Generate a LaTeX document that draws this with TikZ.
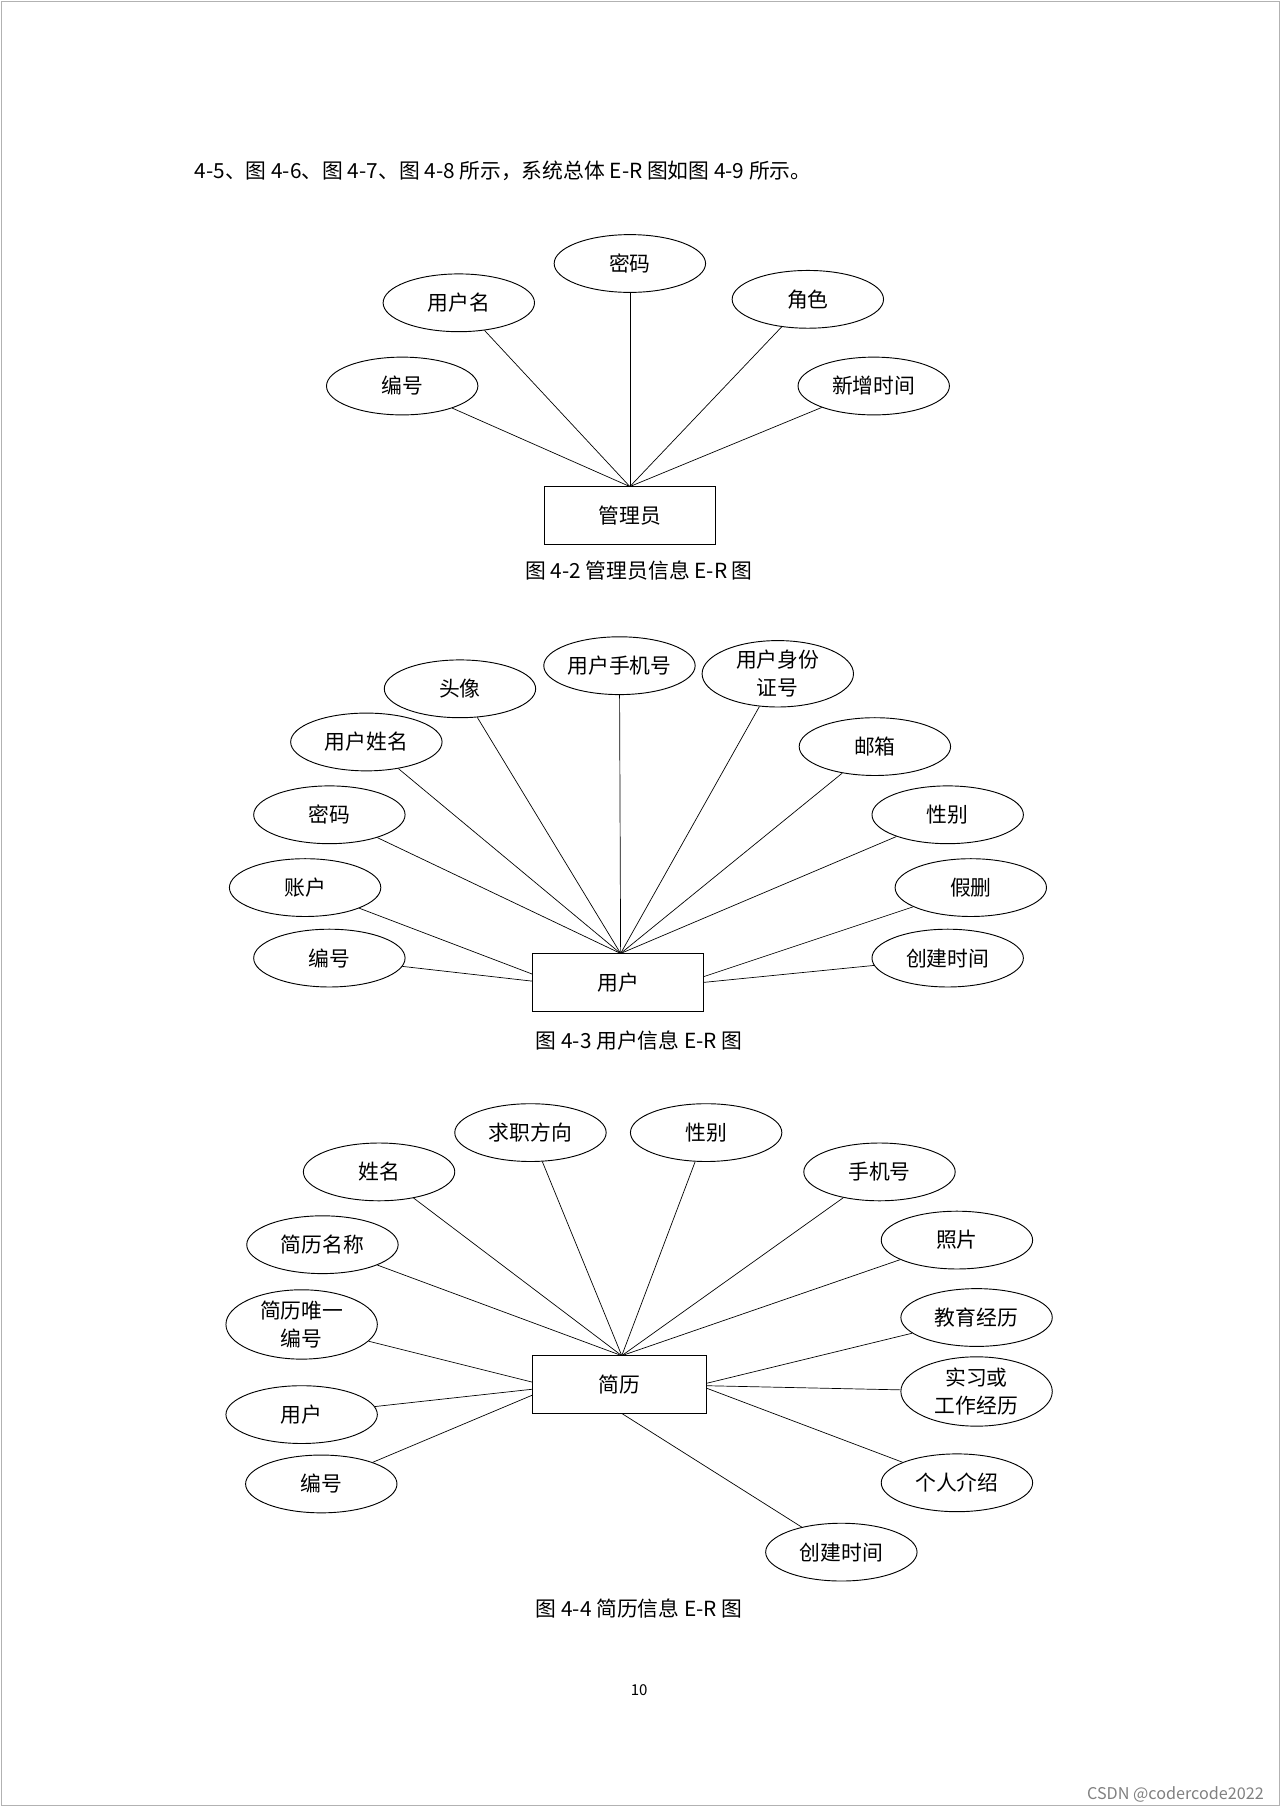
\documentclass[tikz,border=0pt]{standalone}
\usepackage{fontspec}
\setmainfont{Noto Sans CJK SC}
\usetikzlibrary{shapes.geometric}
\tikzset{
 attr/.style={draw,ellipse,minimum width=131pt,minimum height=50pt,inner sep=0pt,font=\fontsize{18}{22}\selectfont,align=center,line width=0.8pt},
 ent/.style={draw,rectangle,minimum width=148pt,minimum height=50pt,inner sep=0pt,font=\fontsize{18}{22}\selectfont,line width=0.8pt},
 captxt/.style={font=\fontsize{18}{22}\selectfont},
 ln/.style={line width=0.6pt}
}
\begin{document}
\begin{tikzpicture}[x=1pt,y=-1pt]
\useasboundingbox (0,0) rectangle (1108,1567);
\draw[gray!60] (1,1) rectangle (1107,1562);
\node[captxt,anchor=west] (hdr) at (165,148) {4-5、图 4-6、图 4-7、图 4-8 所示，系统总体 E-R 图如图 4-9 所示。};
% ---- diagram 1
\node[ent] (A) at (545,446) {管理员};
\coordinate (At) at (545,421);
\node[attr] (a1) at (397,262) {用户名};
\node[attr] (a2) at (545,228) {密码};
\node[attr] (a3) at (699,259) {角色};
\node[attr] (a4) at (348,334) {编号};
\node[attr] (a5) at (756,334) {新增时间};
\foreach \n in {a1,a2,a3,a4,a5} \draw[ln] (\n) -- (At);
\node[captxt] (c1) at (553,494) {图 4-2 管理员信息 E-R 图};
% ---- diagram 2
\node[ent] (U) at (535,850) {用户};
\coordinate (Ut) at (537,825);
\coordinate (Ul1) at (461,843);
\coordinate (Ul2) at (461,849);
\coordinate (Ur1) at (609,845);
\coordinate (Ur2) at (609,850);
\node[attr] (u1) at (398,596) {头像};
\node[attr] (u2) at (536,576) {用户手机号};
\node[attr,font=\fontsize{18}{24}\selectfont] (u3) at (673,583) {用户身份\\证号};
\node[attr] (u4) at (317,642) {用户姓名};
\node[attr] (u5) at (757,646) {邮箱};
\node[attr] (u6) at (285,705) {密码};
\node[attr] (u7) at (820,705) {性别};
\node[attr] (u8) at (264,768) {账户};
\node[attr] (u9) at (840,768) {假删};
\node[attr] (u10) at (285,829) {编号};
\node[attr] (u11) at (820,829) {创建时间};
\foreach \n in {u1,u2,u3,u4,u5,u6,u7} \draw[ln] (\n) -- (Ut);
\draw[ln] (u8) -- (Ul1);
\draw[ln] (u10) -- (Ul2);
\draw[ln] (u9) -- (Ur1);
\draw[ln] (u11) -- (Ur2);
\node[captxt] (c2) at (553,900) {图 4-3 用户信息 E-R 图};
% ---- diagram 3
\node[ent,minimum width=150pt] (R) at (536,1198) {简历};
\coordinate (Rt) at (538,1173);
\coordinate (Rb) at (538,1223);
\coordinate (Rl1) at (461,1196);
\coordinate (Rl2) at (461,1202);
\coordinate (Rl3) at (461,1207);
\coordinate (Rr1) at (611,1197);
\coordinate (Rr2) at (611,1199);
\coordinate (Rr3) at (611,1201);
\node[attr] (r1) at (459,980) {求职方向};
\node[attr] (r2) at (611,980) {性别};
\node[attr] (r3) at (328,1014) {姓名};
\node[attr] (r4) at (761,1014) {手机号};
\node[attr] (r5) at (279,1077) {简历名称};
\node[attr] (r6) at (828,1073) {照片};
\node[attr,minimum height=60pt,font=\fontsize{18}{24}\selectfont] (r7) at (261,1146) {简历唯一\\编号};
\node[attr] (r8) at (845,1140) {教育经历};
\node[attr,minimum height=60pt,font=\fontsize{18}{24}\selectfont] (r9) at (845,1204) {实习或\\工作经历};
\node[attr] (r10) at (261,1224) {用户};
\node[attr] (r11) at (828,1283) {个人介绍};
\node[attr] (r12) at (278,1284) {编号};
\node[attr] (r13) at (728,1343) {创建时间};
\foreach \n in {r1,r2,r3,r4,r5,r6} \draw[ln] (\n) -- (Rt);
\draw[ln] (r7) -- (Rl1);
\draw[ln] (r10) -- (Rl2);
\draw[ln] (r12) -- (Rl3);
\draw[ln] (r8) -- (Rr1);
\draw[ln] (r9) -- (Rr2);
\draw[ln] (r11) -- (Rr3);
\draw[ln] (r13) -- (Rb);
\node[captxt] (c3) at (553,1392) {图 4-4 简历信息 E-R 图};
\node[font=\fontsize{13}{15}\selectfont] (pg) at (553,1462) {10};
\node[font=\fontsize{14}{16}\selectfont,text=gray,anchor=east] (wm) at (1097,1553) {CSDN @codercode2022};
\end{tikzpicture}
\end{document}
